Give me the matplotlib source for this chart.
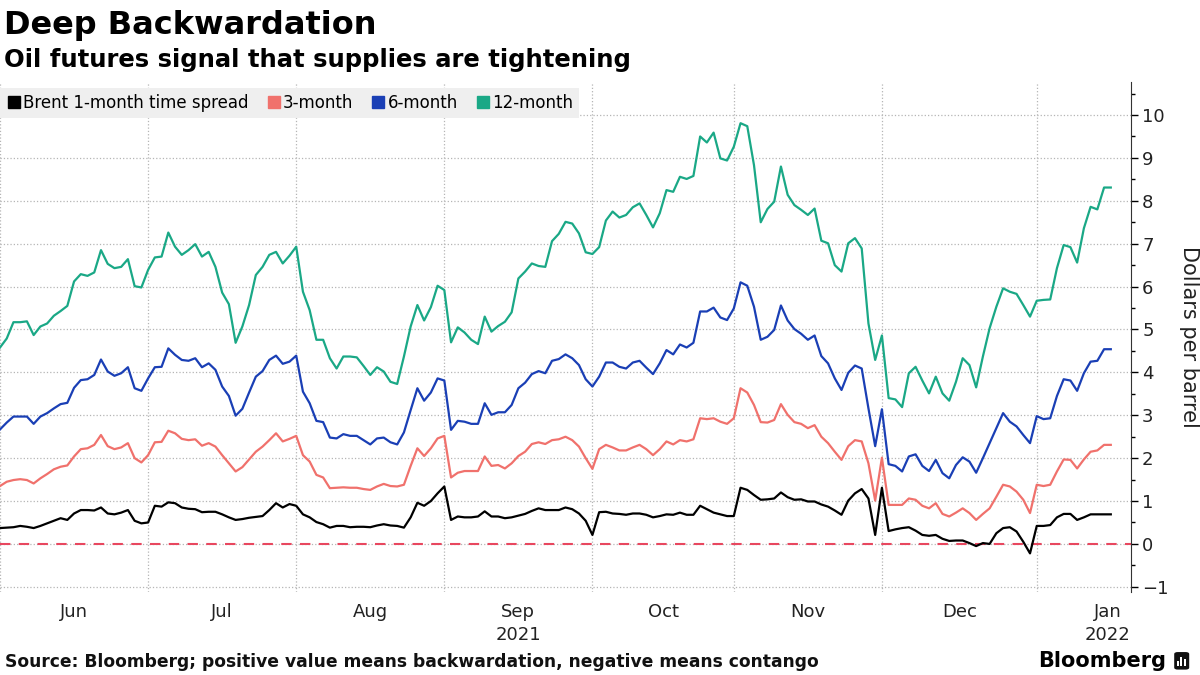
import numpy as np
import pandas as pd
import matplotlib
matplotlib.use("Agg")
import matplotlib.pyplot as plt
from matplotlib.lines import Line2D
from matplotlib.patches import FancyBboxPatch
from matplotlib.ticker import MultipleLocator

# daily values (weekdays from 1 Jun 2021), dollars per barrel
spread_1m = [0.37, 0.38, 0.39, 0.42, 0.40, 0.37, 0.42, 0.48, 0.54, 0.60,
             0.56, 0.71, 0.79, 0.79, 0.78, 0.85, 0.71, 0.69, 0.73, 0.79,
             0.54, 0.48, 0.50, 0.89, 0.87, 0.97, 0.95, 0.85, 0.82, 0.81,
             0.74, 0.75, 0.75, 0.69, 0.62, 0.56, 0.58, 0.61, 0.63, 0.65,
             0.79, 0.95, 0.85, 0.93, 0.89, 0.69, 0.62, 0.51, 0.46, 0.38,
             0.42, 0.42, 0.39, 0.40, 0.40, 0.39, 0.43, 0.46, 0.43, 0.42,
             0.38, 0.62, 0.96, 0.89, 1.00, 1.18, 1.34, 0.56, 0.64, 0.62,
             0.62, 0.64, 0.76, 0.64, 0.64, 0.60, 0.62, 0.66, 0.70, 0.77,
             0.83, 0.79, 0.79, 0.79, 0.85, 0.81, 0.71, 0.54, 0.21, 0.74,
             0.75, 0.71, 0.70, 0.68, 0.71, 0.71, 0.68, 0.62, 0.65, 0.69,
             0.68, 0.73, 0.68, 0.68, 0.89, 0.81, 0.73, 0.69, 0.65, 0.65,
             1.31, 1.26, 1.14, 1.03, 1.04, 1.06, 1.20, 1.09, 1.03, 1.04,
             0.99, 0.99, 0.92, 0.87, 0.78, 0.68, 1.01, 1.18, 1.28, 1.06,
             0.21, 1.31, 0.30, 0.34, 0.37, 0.39, 0.31, 0.21, 0.19, 0.21,
             0.12, 0.07, 0.08, 0.08, 0.02, -0.05, 0.02, 0.00, 0.25, 0.37,
             0.39, 0.29, 0.05, -0.22, 0.42, 0.42, 0.44, 0.62, 0.70, 0.70,
             0.56, 0.62, 0.69, 0.69, 0.69, 0.69]

spread_3m = [1.35, 1.45, 1.49, 1.51, 1.49, 1.41, 1.53, 1.63, 1.74, 1.80,
             1.83, 2.04, 2.21, 2.23, 2.31, 2.54, 2.28, 2.21, 2.25, 2.35,
             2.00, 1.90, 2.07, 2.37, 2.38, 2.64, 2.58, 2.45, 2.42, 2.44,
             2.29, 2.35, 2.27, 2.07, 1.88, 1.69, 1.79, 1.97, 2.15, 2.27,
             2.42, 2.58, 2.39, 2.45, 2.52, 2.07, 1.92, 1.61, 1.55, 1.30,
             1.31, 1.32, 1.31, 1.31, 1.28, 1.26, 1.34, 1.40, 1.35, 1.34,
             1.38, 1.82, 2.23, 2.05, 2.23, 2.46, 2.52, 1.55, 1.66, 1.70,
             1.70, 1.70, 2.04, 1.82, 1.84, 1.76, 1.88, 2.05, 2.15, 2.33,
             2.37, 2.33, 2.42, 2.44, 2.50, 2.42, 2.27, 2.00, 1.75, 2.21,
             2.31, 2.25, 2.18, 2.18, 2.25, 2.31, 2.21, 2.07, 2.21, 2.39,
             2.32, 2.42, 2.39, 2.44, 2.93, 2.91, 2.93, 2.85, 2.80, 2.93,
             3.63, 3.53, 3.24, 2.84, 2.83, 2.89, 3.26, 3.01, 2.84, 2.80,
             2.70, 2.77, 2.50, 2.35, 2.15, 1.96, 2.28, 2.42, 2.39, 1.88,
             1.01, 2.01, 0.91, 0.91, 0.91, 1.06, 1.03, 0.89, 0.83, 0.95,
             0.70, 0.64, 0.73, 0.83, 0.72, 0.56, 0.70, 0.83, 1.10, 1.38,
             1.34, 1.22, 1.03, 0.72, 1.38, 1.35, 1.38, 1.69, 1.97, 1.96,
             1.76, 1.97, 2.15, 2.18, 2.31, 2.31]

spread_6m = [2.67, 2.83, 2.97, 2.97, 2.97, 2.80, 2.97, 3.05, 3.16, 3.26,
             3.29, 3.64, 3.82, 3.84, 3.94, 4.30, 4.02, 3.92, 3.98, 4.12,
             3.63, 3.57, 3.86, 4.12, 4.13, 4.56, 4.41, 4.29, 4.27, 4.33,
             4.12, 4.21, 4.06, 3.67, 3.45, 2.99, 3.15, 3.53, 3.90, 4.03,
             4.29, 4.39, 4.20, 4.25, 4.39, 3.55, 3.28, 2.87, 2.84, 2.48,
             2.46, 2.56, 2.52, 2.52, 2.42, 2.32, 2.46, 2.48, 2.37, 2.32,
             2.60, 3.12, 3.63, 3.34, 3.53, 3.86, 3.81, 2.66, 2.87, 2.85,
             2.80, 2.80, 3.28, 3.01, 3.07, 3.07, 3.24, 3.63, 3.76, 3.96,
             4.03, 3.98, 4.27, 4.31, 4.42, 4.33, 4.17, 3.84, 3.67, 3.90,
             4.23, 4.23, 4.13, 4.09, 4.23, 4.27, 4.11, 3.96, 4.21, 4.52,
             4.42, 4.65, 4.58, 4.69, 5.42, 5.42, 5.51, 5.28, 5.22, 5.49,
             6.10, 6.02, 5.53, 4.76, 4.83, 4.99, 5.56, 5.21, 5.01, 4.90,
             4.76, 4.86, 4.38, 4.21, 3.86, 3.59, 3.99, 4.16, 4.09, 3.16,
             2.28, 3.14, 1.86, 1.82, 1.69, 2.04, 2.09, 1.82, 1.70, 1.96,
             1.65, 1.53, 1.84, 2.02, 1.92, 1.66, 2.00, 2.35, 2.70, 3.05,
             2.85, 2.74, 2.54, 2.35, 2.98, 2.91, 2.93, 3.45, 3.84, 3.81,
             3.57, 3.98, 4.25, 4.27, 4.54, 4.54]

spread_12m = [4.58, 4.79, 5.17, 5.17, 5.19, 4.87, 5.07, 5.14, 5.32, 5.43,
              5.55, 6.12, 6.29, 6.25, 6.33, 6.85, 6.53, 6.43, 6.46, 6.64,
              6.01, 5.98, 6.39, 6.68, 6.70, 7.26, 6.93, 6.74, 6.85, 6.99,
              6.70, 6.81, 6.46, 5.86, 5.59, 4.69, 5.07, 5.57, 6.27, 6.46,
              6.74, 6.81, 6.54, 6.72, 6.93, 5.88, 5.45, 4.76, 4.76, 4.33,
              4.09, 4.37, 4.37, 4.35, 4.15, 3.94, 4.12, 4.02, 3.78, 3.73,
              4.37, 5.07, 5.57, 5.21, 5.52, 6.02, 5.92, 4.70, 5.05, 4.93,
              4.76, 4.66, 5.30, 4.95, 5.08, 5.18, 5.40, 6.19, 6.35, 6.54,
              6.48, 6.46, 7.06, 7.23, 7.51, 7.47, 7.24, 6.80, 6.76, 6.92,
              7.54, 7.75, 7.61, 7.67, 7.85, 7.94, 7.67, 7.38, 7.71, 8.25,
              8.21, 8.56, 8.51, 8.58, 9.50, 9.36, 9.59, 8.99, 8.94, 9.26,
              9.81, 9.74, 8.83, 7.50, 7.81, 7.98, 8.80, 8.14, 7.90, 7.79,
              7.67, 7.82, 7.07, 7.01, 6.50, 6.35, 7.01, 7.13, 6.89, 5.14,
              4.29, 4.86, 3.40, 3.37, 3.19, 3.98, 4.13, 3.81, 3.51, 3.90,
              3.51, 3.34, 3.78, 4.33, 4.17, 3.65, 4.37, 5.03, 5.53, 5.96,
              5.88, 5.83, 5.57, 5.30, 5.67, 5.69, 5.70, 6.43, 6.97, 6.92,
              6.56, 7.36, 7.86, 7.80, 8.31, 8.31]

series_names = ["Brent 1-month time spread", "3-month", "6-month", "12-month"]
series_colors = ["#000000", "#f0716c", "#1a3fb5", "#1aa886"]

# trading-day axis: every weekday gets one slot
dates = pd.bdate_range("2021-06-01", periods=len(spread_1m))
axis_days = pd.bdate_range("2021-06-01", "2022-02-28")
x = np.arange(len(dates))

month_start = [i for i in range(len(axis_days))
               if i == 0 or axis_days[i].month != axis_days[i - 1].month]
xmax = 168
bounds = [b for b in month_start if b <= xmax]
mids, labels = [], []
for a, b in zip(month_start[:-1], month_start[1:]):
    if a > xmax:
        break
    d = axis_days[a]
    lab = d.strftime("%b")
    if d.month == 9:
        lab += "\n2021"
    if d.month == 1:
        lab += "\n2022"
    mids.append((a + b) / 2)
    labels.append(lab)

fig = plt.figure(figsize=(12, 6.75), dpi=100)
ax = fig.add_axes([0.0, 0.123, 0.9425, 0.7555])

for vals, name, col in zip([spread_1m, spread_3m, spread_6m, spread_12m],
                           series_names, series_colors):
    ax.plot(x, vals, color=col, lw=1.6, label=name, zorder=3)

ax.axhline(0, color="#e8475f", lw=1.5, ls=(0, (5, 4)), zorder=2)

ax.set_xlim(0, xmax)
ax.set_ylim(-1.12, 10.77)

ax.set_xticks(mids)
ax.set_xticklabels(labels, fontsize=13, color="#222222", linespacing=1.35)
ax.set_xticks(bounds, minor=True)
ax.tick_params(axis="x", which="major", length=0, pad=8)
ax.tick_params(axis="x", which="minor", length=0)
ax.grid(True, which="minor", axis="x", color="#b5b5b5", ls=":", lw=0.9)

ax.yaxis.tick_right()
ax.yaxis.set_label_position("right")
ax.yaxis.set_major_locator(MultipleLocator(1))
ax.yaxis.set_minor_locator(MultipleLocator(0.5))
ax.tick_params(axis="y", which="major", length=5, width=1, labelsize=13,
               labelcolor="#222222", pad=3)
ax.tick_params(axis="y", which="minor", length=3, width=1)
ax.grid(True, which="major", axis="y", color="#b5b5b5", ls=":", lw=0.9)
ax.set_ylabel("Dollars per barrel", fontsize=15, rotation=-90, labelpad=22,
              color="#222222")

for s in ["top", "left", "bottom"]:
    ax.spines[s].set_visible(False)
ax.spines["right"].set_color("#333333")

handles = [Line2D([], [], marker="s", ls="", color=c, markersize=9)
           for c in series_colors]
leg = ax.legend(handles, series_names, loc="upper left", ncol=4,
                bbox_to_anchor=(0.0, 0.988), frameon=True, fontsize=12,
                handletextpad=0.05, columnspacing=1.0, handlelength=1.0,
                borderpad=0.35, borderaxespad=0.0, fancybox=False)
leg.get_frame().set_facecolor("#efefef")
leg.get_frame().set_edgecolor("none")
leg.get_frame().set_alpha(1)
leg.set_zorder(5)

fig.text(0.003, 0.962, "Deep Backwardation", fontsize=23, fontweight="bold",
         va="center", ha="left")
fig.text(0.003, 0.911, "Oil futures signal that supplies are tightening",
         fontsize=17.5, fontweight="bold", va="center", ha="left")
fig.text(0.004, 0.019, "Source: Bloomberg; positive value means backwardation, "
         "negative means contango", fontsize=12.3, fontweight="bold",
         va="center", ha="left", color="#111111")
fig.text(0.9715, 0.021, "Bloomberg", fontsize=15, fontweight="bold",
         va="center", ha="right")

# small logo tile next to the wordmark
logo = FancyBboxPatch((0.9785, 0.008), 0.0125, 0.026,
                      boxstyle="round,pad=0,rounding_size=0.003",
                      transform=fig.transFigure, facecolor="#111111",
                      edgecolor="none")
fig.patches.append(logo)
for k, h in enumerate([0.008, 0.013, 0.010]):
    fig.patches.append(plt.Rectangle((0.9805 + k * 0.003, 0.013), 0.0018, h,
                                     transform=fig.transFigure,
                                     facecolor="white", edgecolor="none"))

fig.savefig("out.png", dpi=100)
